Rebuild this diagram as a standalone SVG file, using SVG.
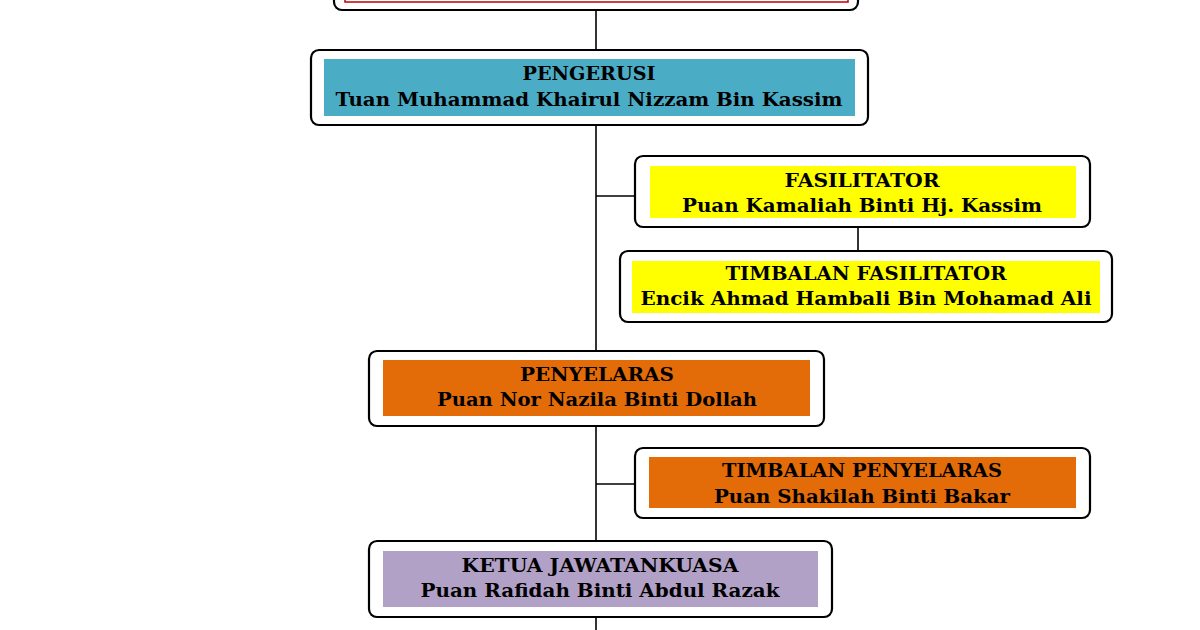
<svg xmlns="http://www.w3.org/2000/svg" width="1200" height="630" viewBox="0 0 1200 630">
<style>
.outer{fill:#fff;stroke:#000;stroke-width:2.2}
.t{font-family:"DejaVu Serif","Liberation Serif",serif;font-weight:bold;font-size:19px;fill:#000;text-anchor:middle}
.c{stroke:#000;stroke-width:1.6;fill:none}
</style>
<rect width="1200" height="630" fill="#fff"/>
<g id="connectors">
<line class="c" x1="596" y1="10" x2="596" y2="630"/>
<line class="c" x1="596" y1="196" x2="635" y2="196"/>
<line class="c" x1="858" y1="227" x2="858" y2="251"/>
<line class="c" x1="596" y1="484" x2="635" y2="484"/>
</g>
<g id="top">
<rect class="outer" x="334" y="-30" width="524" height="40" rx="8"/>
<rect x="345" y="-20" width="503" height="22" fill="#fff" stroke="#c00000" stroke-width="1.5"/>
</g>
<g id="pengerusi">
<rect class="outer" x="311" y="50" width="557" height="75" rx="8"/>
<rect x="324" y="59" width="531" height="57" fill="#4bacc6"/>
<text class="t" x="589" y="80" textLength="133" lengthAdjust="spacingAndGlyphs">PENGERUSI</text>
<text class="t" x="589" y="106" textLength="507" lengthAdjust="spacingAndGlyphs">Tuan Muhammad Khairul Nizzam Bin Kassim</text>
</g>
<g id="fasilitator">
<rect class="outer" x="635" y="156" width="455" height="71" rx="8"/>
<rect x="650" y="166" width="426" height="52" fill="#ffff00"/>
<text class="t" x="862" y="187" textLength="155" lengthAdjust="spacingAndGlyphs">FASILITATOR</text>
<text class="t" x="862" y="212" textLength="360" lengthAdjust="spacingAndGlyphs">Puan Kamaliah Binti Hj. Kassim</text>
</g>
<g id="timbalan-fasilitator">
<rect class="outer" x="620" y="251" width="492" height="71" rx="8"/>
<rect x="632" y="261" width="468" height="52" fill="#ffff00"/>
<text class="t" x="866" y="280" textLength="281" lengthAdjust="spacingAndGlyphs">TIMBALAN FASILITATOR</text>
<text class="t" x="866" y="305" textLength="451" lengthAdjust="spacingAndGlyphs">Encik Ahmad Hambali Bin Mohamad Ali</text>
</g>
<g id="penyelaras">
<rect class="outer" x="369" y="351" width="455" height="75" rx="8"/>
<rect x="383" y="360" width="427" height="56" fill="#e36c09"/>
<text class="t" x="597" y="381" textLength="154" lengthAdjust="spacingAndGlyphs">PENYELARAS</text>
<text class="t" x="597" y="406" textLength="320" lengthAdjust="spacingAndGlyphs">Puan Nor Nazila Binti Dollah</text>
</g>
<g id="timbalan-penyelaras">
<rect class="outer" x="635" y="448" width="455" height="70" rx="8"/>
<rect x="649" y="457" width="427" height="51" fill="#e36c09"/>
<text class="t" x="862" y="477" textLength="280" lengthAdjust="spacingAndGlyphs">TIMBALAN PENYELARAS</text>
<text class="t" x="862" y="503" textLength="296" lengthAdjust="spacingAndGlyphs">Puan Shakilah Binti Bakar</text>
</g>
<g id="ketua">
<rect class="outer" x="369" y="541" width="463" height="76" rx="8"/>
<rect x="383" y="551" width="435" height="56" fill="#b2a1c7"/>
<text class="t" x="600" y="572" textLength="277" lengthAdjust="spacingAndGlyphs">KETUA JAWATANKUASA</text>
<text class="t" x="600" y="597" textLength="359" lengthAdjust="spacingAndGlyphs">Puan Rafidah Binti Abdul Razak</text>
</g>
</svg>
